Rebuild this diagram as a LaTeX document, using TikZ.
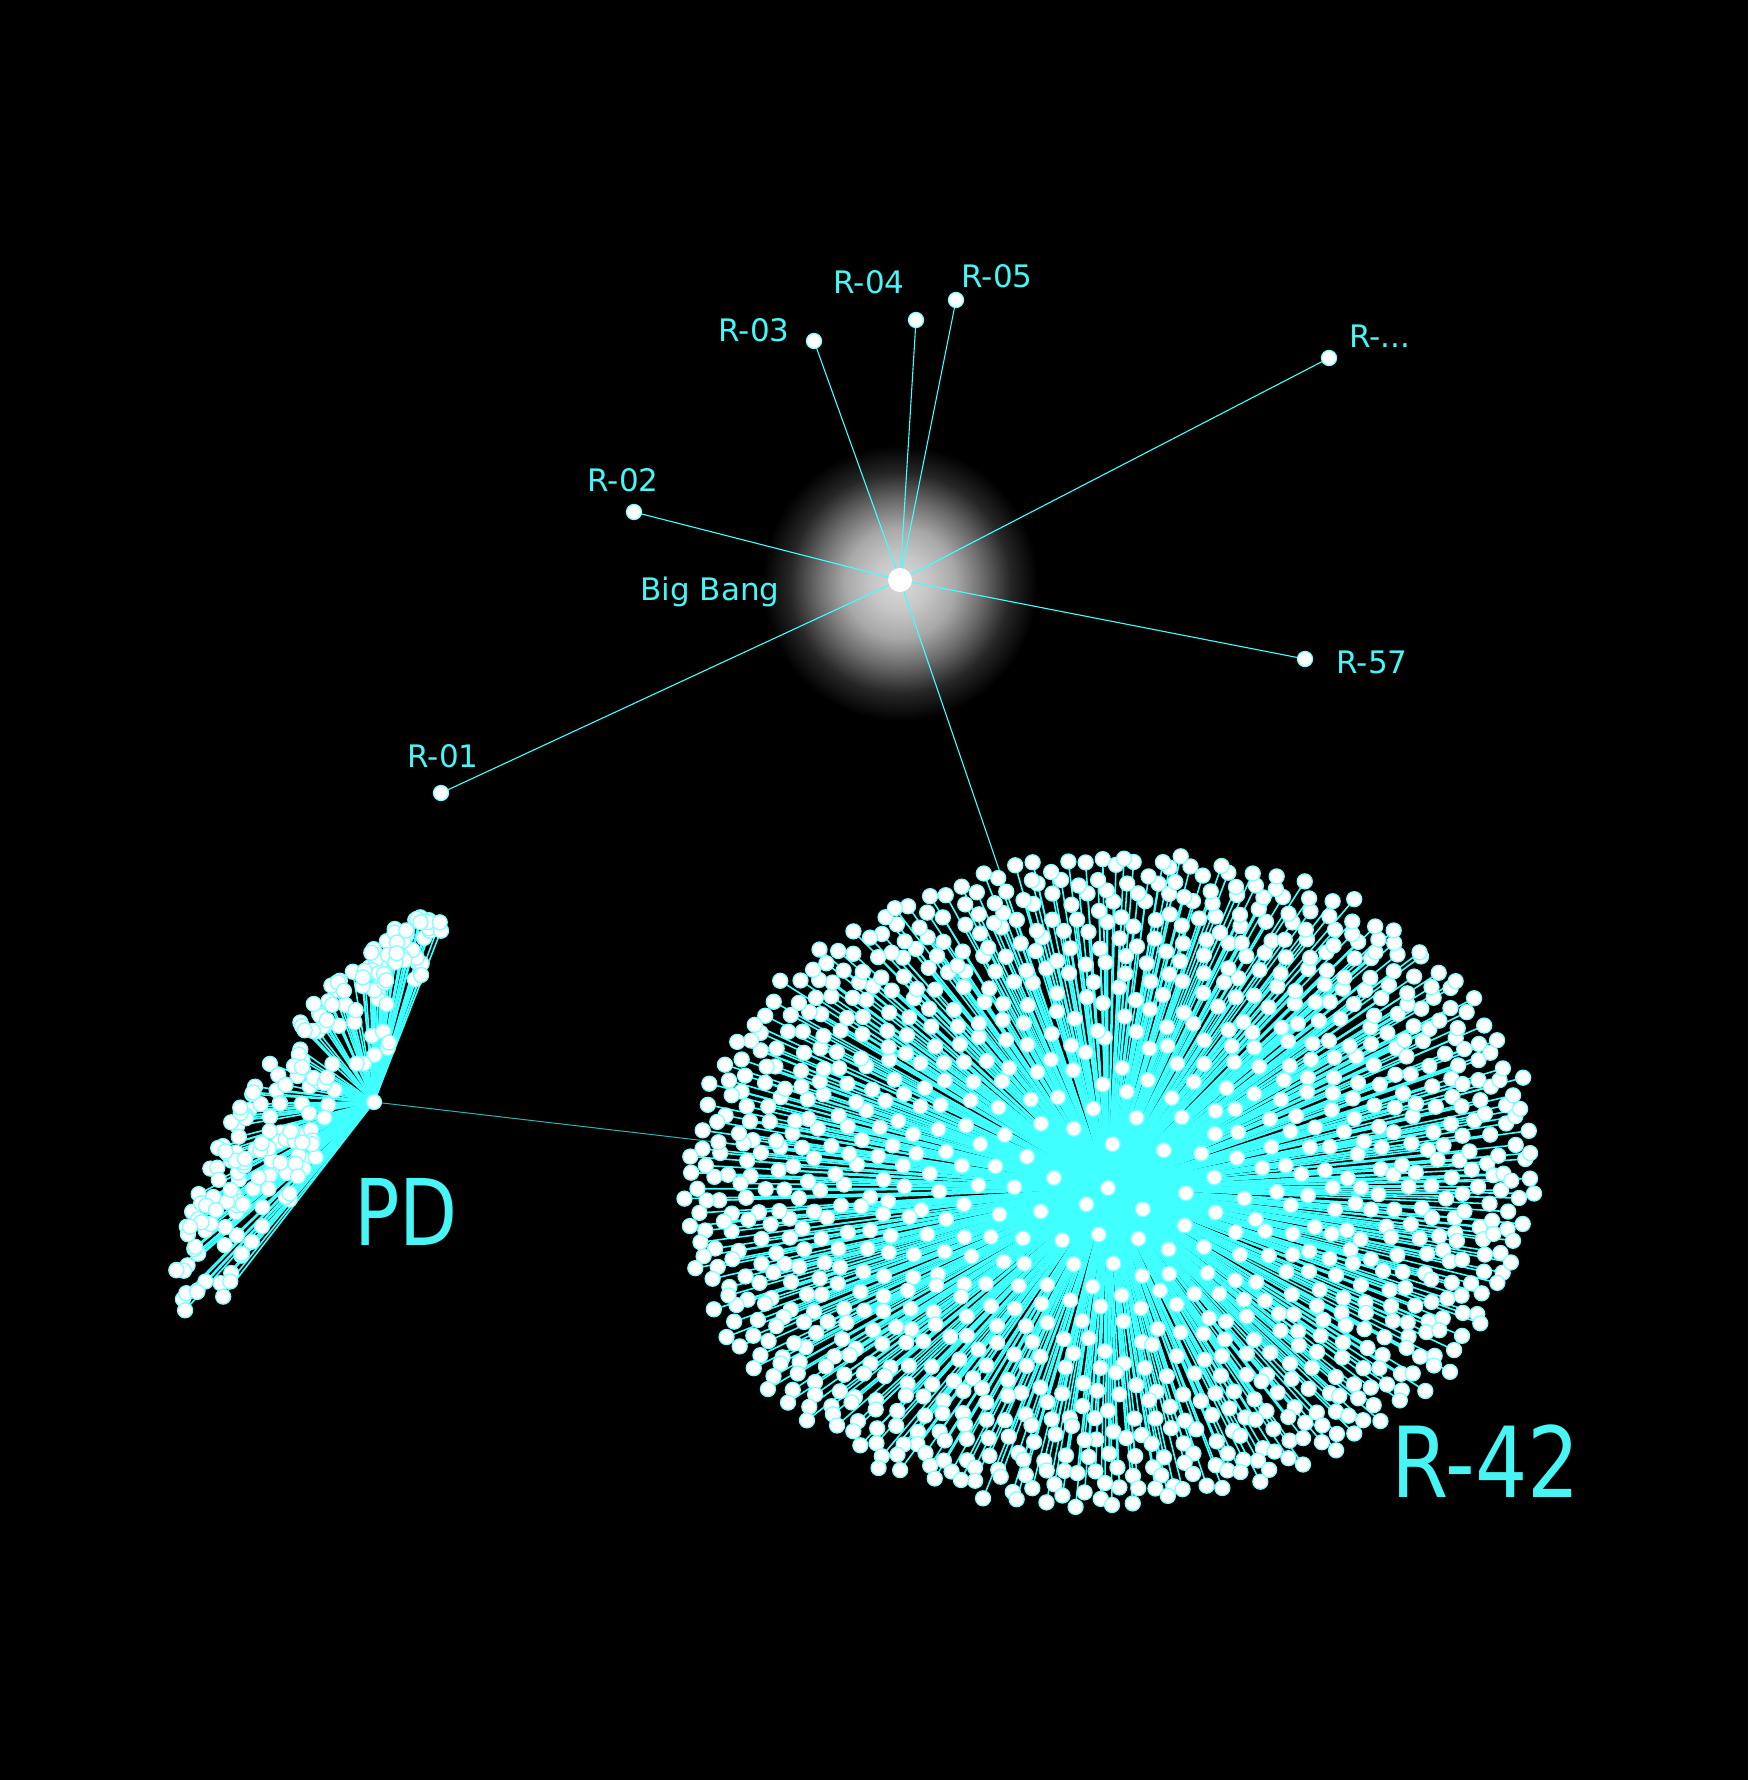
\documentclass[tikz,border=0pt]{standalone}
\usepackage{fontspec}
\setmainfont{DejaVu Sans}
\definecolor{cy}{RGB}{64,255,255}
\definecolor{lab}{RGB}{72,245,245}
\pgfdeclareradialshading{glow}{\pgfpoint{0bp}{0bp}}{%
  color(0bp)=(white!85!black);
  color(5bp)=(white!78!black);
  color(10bp)=(white!66!black);
  color(15bp)=(white!42!black);
  color(20bp)=(white!15!black);
  color(25bp)=(black);
  color(50bp)=(black)}
\begin{document}
\begin{tikzpicture}[x=1pt,y=-1pt,
  spot/.style={circle,inner sep=0pt,minimum size=15pt},
  leaf/.style={circle,fill=white,draw=cy!65!white,line width=1.3pt,inner sep=0pt,minimum size=15pt},
  bbdot/.style={circle,fill=white,inner sep=0pt,minimum size=24pt},
  edge/.style={draw=cy,line width=1.6pt},
  thinedge/.style={draw=cy!70!black,line width=1pt},
  lbl/.style={text=lab,font=\fontsize{31}{36}\selectfont,inner sep=0pt,anchor=base},
  biglbl/.style={text=lab,inner sep=0pt,anchor=base}]
\fill[black] (0,0) rectangle (1748,1780);
\useasboundingbox (0,0) rectangle (1748,1780);
\shade[shading=glow] (900,583) circle (138);

% hub positions
\node[spot] (bb) at (900,580) {};
\node[spot] (h42) at (1108,1188) {};
\node[spot] (hpd) at (374,1102) {};

% labelled nodes
\node[spot] (r01) at (441,793) {};
\node[spot] (r02) at (634,512) {};
\node[spot] (r03) at (814,341) {};
\node[spot] (r04) at (916,320) {};
\node[spot] (r05) at (956,300) {};
\node[spot] (rdots) at (1329,358) {};
\node[spot] (r57) at (1305,659) {};

% R-42 cluster positions
\pgfmathsetseed{4242}
\foreach \i in {1,...,1100}{
  \pgfmathsetmacro\rr{(\i/1100)^0.35}
  \pgfmathsetmacro\tt{\i*0.381966}
  \pgfmathsetmacro\ph{360*(\tt-floor(\tt))}
  \pgfmathsetmacro\X{428*\rr*cos(\ph)+5*rand}
  \pgfmathsetmacro\Y{328*\rr*sin(\ph)+5*rand}
  \pgfmathsetmacro\px{1110+0.996*\X+0.087*\Y}
  \pgfmathsetmacro\py{1180-0.087*\X+0.996*\Y}
  \node[spot] (n\i) at (\px,\py) {};
}
% PD cluster positions
\foreach \i in {1,...,220}{
  \pgfmathsetmacro\ra{sqrt(rnd)}
  \pgfmathsetmacro\an{360*rnd}
  \pgfmathsetmacro\s{0.999*\ra*cos(\an)}
  \pgfmathsetmacro\w{(abs(\ra*sin(\an))/sqrt(1-\s*\s))^0.65}
  \pgfmathsetmacro\u{-40+240*\s}
  \pgfmathsetmacro\vin{8+0.17*max(\u,0)+0.03*max(-\u,0)}
  \pgfmathsetmacro\vout{36+74*sqrt(abs(1-\s*\s))}
  \pgfmathsetmacro\v{\vin+\w*(\vout-\vin)}
  \pgfmathsetmacro\px{374+0.554*\u-0.832*\v}
  \pgfmathsetmacro\py{1102-0.832*\u-0.554*\v}
  \node[spot] (p\i) at (\px,\py) {};
}

% connectors
\foreach \t in {r01,r02,r03,r04,r05,rdots,r57,h42}{
  \draw[edge,line width=1.1pt] (bb) -- (\t);
}
\draw[thinedge] (hpd) -- (h42);
\foreach \i in {1,...,1100}{ \draw[edge] (h42) -- (n\i); }
\foreach \i in {1,...,220}{ \draw[edge] (hpd) -- (p\i); }

% dots
\foreach \i in {1,...,1100}{ \node[leaf] at (n\i) {}; }
\foreach \i in {1,...,220}{ \node[leaf] at (p\i) {}; }
\foreach \t in {r01,r02,r03,r04,r05,rdots,r57,h42,hpd}{ \node[leaf] at (\t) {}; }
\node[bbdot] at (bb) {};

% labels
\node[lbl] (l01) at (443,767) {R-01};
\node[lbl] (l02) at (623,491) {R-02};
\node[lbl] (l03) at (754,341) {R-03};
\node[lbl] (l04) at (869,293) {R-04};
\node[lbl] (l05) at (997,287) {R-05};
\node[lbl] (ldots) at (1380,347) {R-...};
\node[lbl] (l57) at (1372,673) {R-57};
\node[lbl] (lbb) at (710,600) {Big Bang};
\node[biglbl,font=\fontsize{92}{100}\selectfont] (lpd) at (406,1245) {\scalebox{0.82}[1]{PD}};
\node[biglbl,font=\fontsize{98}{106}\selectfont] (l42) at (1486,1497) {\scalebox{0.84}[1]{R-42}};
\end{tikzpicture}
\end{document}
